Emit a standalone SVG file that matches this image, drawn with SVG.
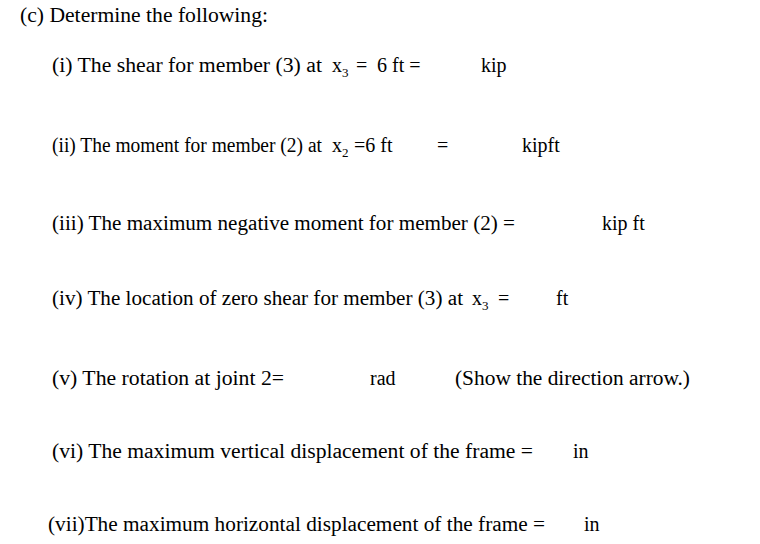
<svg xmlns="http://www.w3.org/2000/svg" width="760" height="544" viewBox="0 0 760 544">
<style>text{font-family:"Liberation Serif","Times New Roman",serif;font-size:20px;fill:#000}.s{font-size:13px}</style>
<rect width="760" height="544" fill="#fff"/>
<text x="20" y="22" textLength="248" lengthAdjust="spacingAndGlyphs">(c) Determine the following:</text>
<text x="52" y="72" textLength="270" lengthAdjust="spacingAndGlyphs">(i) The shear for member (3) at</text>
<text x="332" y="72">x</text><text class="s" x="342" y="77">3</text>
<text x="356" y="72">=</text><text x="377" y="72">6 ft =</text>
<text x="481" y="72">kip</text>
<text x="52" y="152" textLength="270" lengthAdjust="spacingAndGlyphs">(ii) The moment for member (2) at</text>
<text x="332" y="152">x</text><text class="s" x="342" y="157">2</text>
<text x="354" y="152">=6 ft</text><text x="437" y="152">=</text>
<text x="522" y="152">kipft</text>
<text x="52" y="230" textLength="463" lengthAdjust="spacingAndGlyphs">(iii) The maximum negative moment for member (2) =</text>
<text x="602" y="230">kip ft</text>
<text x="52" y="305" textLength="411" lengthAdjust="spacingAndGlyphs">(iv) The location of zero shear for member (3) at</text>
<text x="472" y="305">x</text><text class="s" x="482" y="310">3</text>
<text x="498" y="305">=</text>
<text x="556" y="305">ft</text>
<text x="52" y="385" textLength="232" lengthAdjust="spacingAndGlyphs">(v) The rotation at joint 2=</text>
<text x="370" y="385">rad</text>
<text x="455" y="385" textLength="235" lengthAdjust="spacingAndGlyphs">(Show the direction arrow.)</text>
<text x="52" y="458" textLength="481" lengthAdjust="spacingAndGlyphs">(vi) The maximum vertical displacement of the frame =</text>
<text x="573" y="458">in</text>
<text x="48" y="531" textLength="497" lengthAdjust="spacingAndGlyphs">(vii)The maximum horizontal displacement of the frame =</text>
<text x="584" y="531">in</text>
</svg>
